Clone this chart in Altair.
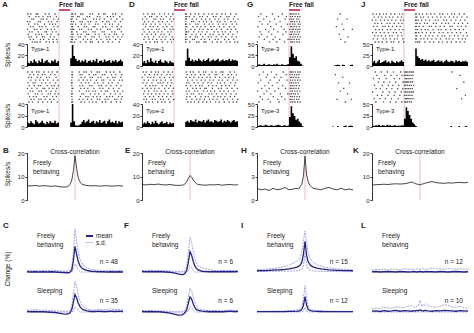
import altair as alt
import pandas as pd

FONT = "Liberation Sans"
INK = "#222222"
PINK = "#f1b3c3"
FF_RED = "#c8526f"
MEAN_C = "#23238a"
SD_C = "#9b9be6"
SPIKE_C = "#3a3a3a"

# ---------------- data ----------------
FF_START = 0.0
FF_END = 0.35
HIST_T0 = -1.0
BIN_W = 0.05
T_TICKS = [-1, -0.75, -0.5, -0.25, 0, 0.25, 0.5, 0.75, 1, 1.25, 1.5, 1.75, 2]
LAG_TICKS = [-0.6, -0.3, 0, 0.3, 0.6]

# raster spike times, 1/100 s, one string per trial
A_RASTER_1 = [
    "-97 -88 -71 -66 -43 -31 -12 39 43 51 68 74 97 105 124 139 144 168 177 196",
    "-93 -72 -63 -50 -35 -27 -8 40 44 58 63 88 96 120 128 151 161 170 190",
    "-85 -79 -56 -49 -38 -16 -2 38 41 55 76 83 108 117 127 142 163 181 199",
    "-99 -91 -64 -58 -33 -23 -6 39 45 66 73 91 99 116 137 149 156 175 192",
    "-95 -76 -67 -45 -29 -20 -11 37 42 52 70 81 94 114 122 144 158 167 186",
    "-89 -81 -61 -53 -41 -16 -4 40 43 60 79 86 107 112 137 146 166 181 194",
    "-98 -77 -69 -57 -36 -24 -14 38 42 46 64 71 92 101 119 130 152 160 183 189",
    "-92 -84 -65 -44 -39 -21 -9 39 41 56 77 84 106 113 134 141 165 174 195",
    "-96 -73 -62 -54 -37 -25 -3 40 44 58 69 87 93 113 125 143 157 173 180 200",
    "-94 -87 -70 -52 -46 -27 -15 38 43 61 67 82 103 110 126 147 155 169 184 197",
    "-90 -80 -58 -48 -32 -19 -7 39 42 53 76 89 100 118 131 150 159 177 191",
    "-83 -75 -68 -59 -40 -30 -18 -5 37 41 49 67 84 98 104 123 138 154 167 188",
]
A_RASTER_2 = [
    "-98 -84 -70 -63 -47 -33 -21 -6 41 63 78 85 101 119 126 148 160 171 190",
    "-91 -79 -66 -52 -44 -26 -13 40 42 66 72 94 108 115 136 143 164 178 196",
    "-95 -86 -68 -57 -39 -30 -9 41 69 81 97 104 122 131 152 168 175 193",
    "-88 -73 -60 -49 -35 -18 -4 40 62 76 88 99 117 134 140 159 172 189 198",
    "-97 -81 -75 -54 -42 -28 -11 39 41 70 83 92 111 121 138 155 166 185",
    "-93 -77 -64 -58 -37 -23 -15 -2 40 65 74 96 103 125 133 147 162 180 194",
    "-99 -85 -69 -50 -45 -31 -19 -7 41 43 68 79 90 109 128 137 156 170 187",
    "-90 -82 -62 -55 -40 -25 -10 40 64 86 93 106 114 132 145 151 173 183 199",
    "-96 -74 -67 -53 -34 -27 -12 -3 39 42 71 77 98 112 124 141 161 176 191",
    "-92 -80 -71 -47 -38 -20 -8 40 67 84 91 107 118 129 149 158 167 186 197",
    "-87 -78 -63 -56 -43 -29 -16 41 63 75 89 102 120 127 144 153 174 181 195",
    "-94 -83 -65 -51 -36 -24 -5 40 42 69 80 95 105 116 135 146 163 179 192",
]
D_RASTER_1 = [
    "-95 -82 -68 -61 -45 -30 -17 -4 36 38 52 66 77 93 108 119 134 150 161 177 194",
    "-90 -76 -70 -53 -39 -24 -10 37 40 48 63 81 89 104 123 131 146 165 172 189",
    "-98 -85 -63 -57 -42 -33 -13 -1 36 39 57 70 86 99 112 128 140 157 168 186 200",
    "-92 -79 -66 -48 -36 -21 -7 37 55 61 79 92 101 117 136 144 159 178 191",
    "-96 -87 -72 -59 -44 -27 -15 36 38 50 68 75 95 110 121 139 153 163 182 196",
    "-89 -74 -65 -51 -34 -22 -6 37 40 59 72 84 97 115 125 142 156 174 188",
    "-97 -81 -69 -55 -47 -29 -12 -3 36 53 65 80 91 106 118 133 148 167 179 193",
    "-93 -77 -62 -50 -38 -19 -9 37 39 46 62 77 88 103 126 137 151 160 176 198",
    "-99 -84 -71 -58 -41 -31 -14 36 38 56 69 83 98 113 122 141 154 170 184",
    "-91 -80 -64 -46 -35 -25 -5 37 51 67 73 90 107 116 132 149 162 181 195",
    "-94 -78 -67 -54 -40 -28 -11 -2 36 40 58 64 85 96 111 129 138 158 171 187",
    "-88 -75 -60 -52 -37 -20 -8 37 49 71 78 94 100 120 135 147 164 175 190 199",
]
D_RASTER_2 = [
    "-96 -87 -71 -58 -49 -32 -18 -5 39 51 60 78 92 99 119 131 147 153 175 189",
    "-91 -77 -61 -52 -39 -22 -12 41 55 66 83 94 110 128 134 152 169 180 195",
    "-99 -82 -73 -63 -44 -30 -14 -3 38 49 62 77 89 103 113 129 143 160 171 186",
    "-93 -80 -65 -55 -41 -27 -9 43 57 72 85 97 112 123 140 151 168 184 197",
    "-97 -85 -69 -50 -43 -34 -20 -7 40 47 63 76 91 106 117 136 145 158 177 192",
    "-89 -75 -66 -57 -37 -24 -11 38 52 68 80 88 108 121 132 149 162 173 190",
    "-98 -84 -72 -60 -47 -29 -16 -2 42 59 70 82 96 101 120 139 148 166 181 198",
    "-92 -79 -62 -53 -40 -26 -6 39 48 65 74 93 104 115 127 144 156 170 187",
    "-95 -81 -70 -56 -45 -31 -19 -4 41 54 61 79 87 109 118 133 150 163 178 194",
    "-90 -76 -64 -48 -36 -23 -10 40 50 67 84 98 107 125 137 146 159 176 189",
    "-94 -86 -68 -59 -42 -33 -17 -1 38 56 71 81 95 111 122 135 154 167 183 199",
    "-88 -78 -67 -51 -38 -28 -13 43 53 64 77 90 102 114 130 141 157 172 185 196",
]
G_RASTER_1 = [
    "-88 -52 -21 4 9 15 22 30 160",
    "-95 -70 -33 -8 5 11 19 27 34",
    "-79 -45 -12 3 8 14 24 31 152 181",
    "-91 -60 -28 6 10 17 25 33",
    "-84 -66 -40 -5 4 12 18 29 35 166",
    "-97 -57 -24 5 9 16 23 32 148",
    "-73 -48 -15 3 10 14 21 28 34 171 198",
    "-90 -63 -35 -10 6 11 18 26 33",
    "-86 -54 -19 4 8 15 22 30 157",
    "-93 -68 -43 5 12 19 27 35 184",
    "-77 -50 -29 -3 3 9 16 24 31 162",
    "-99 -61 -38 -14 6 10 17 25 32 175",
]
G_RASTER_2 = [
    "-80 -55 -18 4 8 13 20 28 34",
    "-92 -67 -40 -9 3 10 17 24 31 145",
    "-71 -46 -25 5 9 15 22 30 168",
    "-88 -59 -30 -6 4 11 19 27 35",
    "-96 -64 -37 3 8 14 21 29 155 189",
    "-75 -52 -20 5 10 16 23 32",
    "-85 -62 -33 -11 4 9 15 22 30 171",
    "-98 -70 -44 6 11 18 26 34 160",
    "-78 -57 -27 -4 3 8 14 20 28 183",
    "-90 -49 -23 5 10 17 25 33",
    "-83 -65 -35 -13 4 9 16 24 31 150 195",
    "-94 -58 -31 6 12 19 27 35 176",
]
J_RASTER_1 = [
    "-97 -86 -76 -64 -55 -41 -29 -14 -5 36 39 48 58 71 84 95 112 121 136 149 158 173 188",
    "-93 -80 -69 -57 -46 -35 -20 -8 37 40 52 61 76 89 103 115 128 142 155 166 181 197",
    "-99 -88 -73 -61 -50 -38 -26 -11 -2 36 38 44 55 68 80 98 107 124 133 147 162 176 190",
    "-91 -82 -70 -53 -44 -31 -17 -6 37 41 50 64 73 92 101 118 130 139 157 170 183 199",
    "-95 -84 -66 -59 -48 -36 -23 -12 36 39 47 60 79 86 99 113 126 144 151 168 179 193",
    "-89 -78 -67 -52 -42 -28 -15 -3 37 42 54 66 75 91 108 116 131 146 160 172 186",
    "-98 -87 -74 -62 -49 -33 -24 -9 36 38 46 57 70 83 94 110 122 137 150 164 177 195",
    "-92 -81 -71 -58 -45 -37 -19 -7 37 40 51 67 78 90 105 119 127 143 158 169 185 198",
    "-96 -83 -65 -56 -43 -30 -21 -4 36 39 53 62 74 87 100 114 132 141 153 171 182 192",
    "-90 -79 -68 -54 -40 -32 -16 -1 37 43 49 65 81 93 109 120 135 148 163 175 189",
]
J_RASTER_2 = [
    "-90 -71 -52 -33 -10 3 7 12 18 24 29 150",
    "-85 -60 -41 -22 -6 2 6 11 16 22 28 175",
    "-95 -77 -56 -30 -14 4 8 13 19 25",
    "-80 -63 -45 -26 -3 3 7 10 15 21 27 187",
    "-92 -68 -49 -35 -17 2 5 11 17 23 30",
    "-87 -74 -55 -38 -20 -4 4 9 14 20 26 165",
    "-98 -66 -46 -28 -9 3 6 12 18 24 29",
    "-83 -70 -50 -31 -13 2 7 13 19 25 192",
    "-93 -75 -58 -39 -18 4 8 12 16 22 28 180",
    "-88 -64 -43 -25 -7 3 6 11 17 23",
]

# PSTHs, spikes/s, 50-ms bins from -1 s to 2 s
HIST_A1 = [7, 5, 9, 6, 12, 8, 5, 10, 7, 13, 6, 9, 11, 7, 5, 10, 8, 12, 6, 9,
           0, 0, 0, 0, 0, 0, 0,
           14, 38, 18, 13, 9, 11, 7, 10, 8, 12, 6, 9, 10, 7, 11, 8, 13, 6, 9, 10,
           7, 12, 8, 9, 11, 6, 10, 8, 11, 7, 9, 12, 8]
HIST_A2 = [8, 6, 10, 7, 5, 12, 9, 6, 8, 11, 7, 5, 9, 6, 10, 8, 7, 11, 6, 8,
           0, 0, 0, 0, 0, 0, 0,
           8, 40, 10, 3, 2, 3, 5, 9, 12, 8, 10, 13, 7, 9, 11, 6, 10, 8, 12, 7,
           9, 11, 6, 10, 13, 8, 9, 7, 11, 6, 10, 8, 9]
HIST_D1 = [6, 9, 5, 11, 7, 14, 8, 6, 10, 5, 9, 12, 7, 6, 10, 8, 5, 9, 7, 6,
           0, 0, 0, 0, 0, 0, 0,
           10, 32, 15, 9, 12, 8, 11, 9, 13, 10, 8, 12, 9, 11, 14, 8, 10, 12, 9, 11,
           13, 8, 10, 12, 9, 11, 10, 13, 9, 12, 10, 11, 9]
HIST_D2 = [5, 8, 6, 10, 7, 5, 9, 6, 11, 7, 5, 8, 10, 6, 7, 9, 5, 8, 6, 7,
           0, 0, 0, 0, 0, 0, 0,
           9, 11, 8, 12, 10, 9, 13, 8, 11, 10, 9, 12, 8, 11, 13, 9, 10, 8, 12, 11,
           9, 10, 13, 8, 11, 9, 12, 10, 8, 11, 12, 9, 10]
HIST_G1 = [3, 4, 2, 3, 5, 2, 3, 4, 3, 2, 4, 3, 5, 3, 2, 4, 3, 2, 3, 4,
           20, 45, 28, 18, 22, 12, 10, 5, 1, 0, 0, 0, 0, 0, 0, 0, 0, 0, 0, 0,
           0, 0, 0, 0, 0, 0, 0, 0, 1, 2, 3, 2, 0, 3, 2, 0, 0, 0, 2, 3]
HIST_G2 = [2, 3, 4, 2, 3, 5, 3, 2, 4, 3, 2, 3, 4, 5, 3, 2, 3, 4, 2, 3,
           22, 45, 30, 24, 16, 18, 12, 8, 2, 0, 0, 0, 0, 0, 0, 0, 0, 0, 0, 0,
           0, 0, 0, 0, 0, 0, 0, 1, 0, 0, 2, 0, 0, 0, 2, 3, 0, 2, 3, 2]
HIST_J1 = [8, 12, 6, 10, 14, 7, 9, 11, 13, 8, 10, 6, 12, 9, 7, 11, 8, 10, 13, 9,
           0, 0, 0, 0, 0, 0, 0,
           40, 22, 18, 14, 16, 12, 15, 11, 13, 10, 12, 14, 9, 11, 13, 10, 12, 8, 11, 14,
           10, 9, 12, 11, 8, 13, 10, 12, 9, 11, 10, 12, 9]
HIST_J2 = [3, 2, 4, 3, 5, 2, 4, 3, 2, 5, 3, 4, 2, 3, 4, 2, 3, 2, 4, 3,
           18, 43, 35, 26, 18, 10, 6, 2, 0, 0, 0, 0, 0, 0, 0, 0, 0, 0, 0, 0,
           0, 0, 0, 0, 0, 0, 0, 0, 0, 2, 0, 0, 0, 0, 2, 0, 0, 0, 2, 1]

# lag axis (s) for cross-correlations and population curves
XC = [-0.6, -0.55, -0.5, -0.45, -0.4, -0.35, -0.3, -0.25, -0.2, -0.15,
      -0.1, -0.08, -0.06, -0.04, -0.02, 0, 0.02, 0.04, 0.06, 0.08,
      0.1, 0.15, 0.2, 0.25, 0.3, 0.35, 0.4, 0.45, 0.5, 0.55, 0.6]

CC_B = [6.1, 6.0, 6.2, 5.9, 6.1, 6.0, 5.8, 6.0, 5.7, 5.5, 5.6, 6.0, 6.8, 8.5, 12.5, 18.8,
        13.5, 9.5, 7.8, 6.9, 6.5, 6.2, 6.0, 6.1, 5.9, 6.0, 6.1, 5.9, 6.0, 6.1, 5.9]
CC_E = [6.6, 6.4, 6.7, 6.5, 6.8, 6.5, 6.4, 6.6, 6.3, 6.2, 6.3, 6.5, 6.9, 7.8, 9.3, 10.4,
        9.8, 8.6, 7.6, 7.0, 6.6, 6.4, 6.3, 6.5, 6.4, 6.6, 6.3, 6.5, 6.6, 6.4, 6.5]
CC_H = [1.5, 1.3, 1.4, 1.2, 1.5, 1.3, 1.4, 1.6, 1.3, 1.4, 1.5, 1.4, 1.7, 2.0, 3.0, 5.6,
        3.2, 2.3, 1.9, 1.7, 1.5, 1.4, 1.3, 1.5, 1.6, 1.4, 1.3, 1.5, 1.3, 1.4, 1.3]
CC_K = [6.4, 6.5, 6.6, 6.7, 6.6, 6.8, 6.9, 6.8, 6.9, 7.2, 7.7, 7.3, 7.0, 6.8, 6.6, 6.5,
        6.7, 6.9, 7.1, 7.3, 7.5, 7.8, 7.4, 7.2, 7.1, 7.3, 7.2, 7.4, 7.5, 7.3, 7.5]

C1_MEAN = [1, 0, 1, 0, 1, 0, 1, 0, -1, -2, -3, -3, 0, 8, 45, 100, 70, 42, 26, 17, 12, 6, 3, 2, 1, 1, 0, 1, 0, 1, 0]
C1_UP = [6, 5, 6, 5, 7, 6, 5, 6, 5, 4, 4, 5, 9, 22, 80, 170, 120, 78, 52, 38, 28, 16, 10, 8, 7, 6, 6, 7, 6, 5, 6]
C1_LO = [0, 0, 0, 0, 0, 0, 0, 0, 0, 0, 0, 0, 0, 0, 12, 30, 22, 8, 2, 0, 0, 0, 0, 0, 0, 0, 0, 0, 0, 0, 0]
C2_MEAN = [2, 1, 2, 1, 1, 0, -1, -2, -4, -7, -8, -6, -2, 10, 38, 68, 55, 35, 22, 14, 9, 4, 2, 2, 3, 2, 2, 3, 2, 3, 2]
C2_UP = [8, 7, 9, 8, 7, 6, 6, 5, 4, 3, 3, 4, 8, 25, 75, 118, 98, 66, 44, 30, 22, 12, 8, 8, 11, 9, 10, 12, 9, 10, 8]
C2_LO = [0, 0, 0, 0, 0, 0, 0, 0, 0, 0, 0, 0, 0, 0, 5, 20, 14, 6, 0, 0, 0, 0, 0, 0, 0, 0, 0, 0, 0, 0, 0]
F1_MEAN = [2, 1, 2, 1, 2, 1, 0, -1, -3, -7, -10, -9, -4, 8, 40, 80, 66, 42, 24, 14, 8, 3, 2, 1, 2, 1, 2, 1, 2, 1, 2]
F1_UP = [6, 5, 7, 6, 5, 6, 5, 4, 3, 2, 2, 3, 8, 25, 80, 135, 115, 80, 52, 35, 24, 16, 13, 10, 6, 5, 6, 5, 6, 5, 6]
F1_LO = [0, 0, 0, 0, 0, 0, 0, 0, 0, 0, 0, 0, 0, 0, 5, 25, 18, 5, 0, 0, 0, 0, 0, 0, 0, 0, 0, 0, 0, 0, 0]
F2_MEAN = [2, 1, 2, 1, 1, 0, -2, -4, -8, -12, -11, -8, -2, 10, 35, 58, 50, 32, 18, 10, 6, 3, 2, 1, 2, 1, 1, 2, 3, 2, 2]
F2_UP = [6, 5, 6, 5, 5, 4, 3, 2, 1, 0, 1, 3, 8, 22, 62, 92, 82, 58, 38, 24, 15, 9, 7, 6, 5, 6, 5, 6, 8, 6, 5]
F2_LO = [0, 0, 0, 0, 0, 0, 0, 0, 0, 0, 0, 0, 0, 0, 4, 22, 16, 6, 0, 0, 0, 0, 0, 0, 0, 0, 0, 0, 0, 0, 0]
I1_MEAN = [12, 13, 14, 16, 18, 20, 22, 25, 30, 38, 48, 55, 68, 95, 170, 300, 165, 100, 75, 60, 50, 38, 30, 25, 20, 18, 16, 15, 14, 13, 12]
I1_UP = [22, 24, 26, 30, 34, 40, 46, 55, 68, 85, 105, 118, 140, 190, 300, 400, 290, 190, 140, 112, 95, 72, 58, 48, 40, 34, 30, 28, 26, 24, 22]
I1_LO = [5, 5, 6, 6, 7, 7, 8, 8, 9, 10, 12, 14, 18, 25, 60, 180, 70, 30, 20, 14, 10, 8, 6, 5, 5, 4, 4, 4, 4, 3, 3]
I2_MEAN = [20, 20, 22, 22, 25, 25, 28, 30, 35, 40, 55, 65, 90, 150, 420, 1000, 430, 170, 100, 70, 55, 40, 32, 28, 25, 22, 20, 20, 18, 18, 18]
I2_UP = [45, 45, 48, 50, 55, 58, 62, 68, 80, 95, 130, 150, 210, 340, 900, 1700, 900, 380, 220, 150, 120, 85, 70, 60, 55, 50, 45, 45, 42, 40, 40]
I2_LO = [0, 0, 0, 0, 0, 0, 0, 0, 0, 0, 0, 0, 0, 0, 60, 300, 70, 10, 0, 0, 0, 0, 0, 0, 0, 0, 0, 0, 0, 0, 0]
L1_MEAN = [1, 2, 0, 1, 2, 1, 0, 2, 1, 0, 1, 2, 1, 0, 1, 2, 1, 0, 1, 2, 1, 1, 0, 2, 1, 0, 1, 2, 1, 0, 1]
L1_UP = [8, 10, 9, 11, 8, 12, 10, 9, 13, 11, 10, 12, 9, 11, 13, 10, 12, 14, 11, 9, 12, 15, 11, 13, 10, 14, 12, 11, 13, 10, 12]
L1_LO = [0, 0, 0, 0, 0, 0, 0, 0, 0, 0, 0, 0, 0, 0, 0, 0, 0, 0, 0, 0, 0, 0, 0, 0, 0, 0, 0, 0, 0, 0, 0]
L2_MEAN = [3, 4, 2, 5, 3, 4, 6, 3, 5, 4, 3, 5, 4, 6, 5, 8, 5, 4, 6, 5, 4, 3, 5, 4, 6, 5, 4, 3, 5, 4, 3]
L2_UP = [12, 15, 14, 18, 16, 14, 20, 18, 17, 22, 25, 20, 18, 22, 24, 45, 22, 30, 26, 32, 24, 20, 18, 22, 28, 26, 20, 18, 22, 16, 14]
L2_LO = [0, 0, 0, 0, 0, 0, 0, 0, 0, 0, 0, 0, 0, 0, 0, 0, 0, 0, 0, 0, 0, 0, 0, 0, 0, 0, 0, 0, 0, 0, 0]

COLUMNS = [
    dict(top="A", mid="B", bot="C", tl=-25, ml=-24, bl=-24,
         r1=A_RASTER_1, r2=A_RASTER_2, h1=HIST_A1, h2=HIST_A2, ty1="Type-1", ty2="Type-1",
         hmax=40, hticks=[0, 20, 40], cc=CC_B, ccmax=20, ccticks=[0, 10, 20],
         m1=C1_MEAN, u1=C1_UP, l1=C1_LO, ymax1=180, yt1=[0, 60, 120, 180], n1="n = 48",
         m2=C2_MEAN, u2=C2_UP, l2=C2_LO, ymax2=120, yt2=[0, 60, 120], n2="n = 35"),
    dict(top="D", mid="E", bot="F", tl=-13, ml=-17, bl=-18,
         r1=D_RASTER_1, r2=D_RASTER_2, h1=HIST_D1, h2=HIST_D2, ty1="Type-1", ty2="Type-2",
         hmax=40, hticks=[0, 20, 40], cc=CC_E, ccmax=20, ccticks=[0, 10, 20],
         m1=F1_MEAN, u1=F1_UP, l1=F1_LO, ymax1=180, yt1=[0, 60, 120, 180], n1="n = 6",
         m2=F2_MEAN, u2=F2_UP, l2=F2_LO, ymax2=120, yt2=[0, 60, 120], n2="n = 6"),
    dict(top="G", mid="H", bot="I", tl=-10, ml=-16, bl=-16,
         r1=G_RASTER_1, r2=G_RASTER_2, h1=HIST_G1, h2=HIST_G2, ty1="Type-3", ty2="Type-3",
         hmax=50, hticks=[0, 25, 50], cc=CC_H, ccmax=6, ccticks=[0, 3, 6],
         m1=I1_MEAN, u1=I1_UP, l1=I1_LO, ymax1=450, yt1=[0, 150, 300, 450], n1="n = 15",
         m2=I2_MEAN, u2=I2_UP, l2=I2_LO, ymax2=2000, yt2=[0, 1000, 2000], n2="n = 12"),
    dict(top="J", mid="K", bot="L", tl=-11, ml=-19, bl=-11,
         r1=J_RASTER_1, r2=J_RASTER_2, h1=HIST_J1, h2=HIST_J2, ty1="Type-1", ty2="Type-3",
         hmax=50, hticks=[0, 25, 50], cc=CC_K, ccmax=20, ccticks=[0, 10, 20],
         m1=L1_MEAN, u1=L1_UP, l1=L1_LO, ymax1=180, yt1=[0, 60, 120, 180], n1="n = 12",
         m2=L2_MEAN, u2=L2_UP, l2=L2_LO, ymax2=120, yt2=[0, 60, 120], n2="n = 10"),
]

# ---------------- layout ----------------
W = 96
H_R1, H_H1, H_R2, H_H2 = 44, 22, 38, 23
H_GAP1, H_B, H_GAP2, H_CT, H_GAP3, H_CB = 26, 47, 26, 46, 9, 31

TS = alt.Scale(domain=[-1, 2], nice=False, zero=False)
LS = alt.Scale(domain=[-0.6, 0.6], nice=False, zero=False)


def ax(**kw):
    base = dict(title=None, grid=False, tickSize=2, labelPadding=1, domainColor="black",
                tickColor="black", domainWidth=0.8, tickWidth=0.8, labelFontSize=6,
                labelFont=FONT, labelColor=INK, titleFont=FONT, titleFontSize=6.5,
                titleFontWeight="normal", titleColor=INK, titlePadding=1, labelFlush=False)
    base.update(kw)
    return alt.Axis(**base)


def label(s, x, y, size=6.5, weight="normal", align="left", angle=0):
    return alt.Chart(pd.DataFrame({"s": [s]})).mark_text(
        font=FONT, fontSize=size, fontWeight=weight, align=align, baseline="middle",
        angle=angle, color=INK).encode(x=alt.value(x), y=alt.value(y), text="s:N")


def zero_rule(scale, y0=None, y1=None):
    enc = dict(x=alt.X("t:Q", scale=scale, axis=None))
    if y0 is not None:
        enc["y"] = alt.value(y0)
        enc["y2"] = alt.value(y1)
    return alt.Chart(pd.DataFrame({"t": [0.0]})).mark_rule(color=PINK, strokeWidth=0.9).encode(**enc)


def raster(trials, h, top, bot, extra):
    rows = []
    for i, s in enumerate(trials):
        for v in s.split():
            rows.append({"t": int(v) / 100.0, "i": i})
    df = pd.DataFrame(rows)
    d = (bot - top) / (len(trials) - 1)
    ys = alt.Scale(domain=[-top / d, (h - top) / d], reverse=True, nice=False, zero=False)
    dots = alt.Chart(df).mark_square(size=1.6, color=SPIKE_C, opacity=0.9).encode(
        x=alt.X("t:Q", scale=TS, axis=None), y=alt.Y("i:Q", scale=ys, axis=None))
    return alt.layer(*extra, dots).properties(width=W, height=h)


def hist(vals, c, h, typ, labels, typ_y, first, sy):
    xs = [HIST_T0 + BIN_W * i for i in range(len(vals))] + [HIST_T0 + BIN_W * len(vals)]
    df = pd.DataFrame({"t": xs, "v": list(vals) + [vals[-1]]})
    if labels:
        xa = ax(values=T_TICKS, labelExpr="datum.value % 1 == 0 ? '' + datum.value : ''",
                title="Time (s)")
    else:
        xa = ax(values=T_TICKS, labels=False)
    area = alt.Chart(df).mark_area(interpolate="step-after", color="black").encode(
        x=alt.X("t:Q", scale=TS, axis=xa),
        y=alt.Y("v:Q", scale=alt.Scale(domain=[0, c["hmax"]], nice=False), axis=ax(values=c["hticks"])))
    layers = [zero_rule(TS), area, label(typ, 4, typ_y, size=6)]
    if first:
        layers.append(label("Spikes/s", -19, sy, size=6.5, align="center", angle=270))
    return alt.layer(*layers).properties(width=W, height=h)


def cc_panel(c, first):
    df = pd.DataFrame({"x": XC, "y": c["cc"]})
    line = alt.Chart(df).mark_line(color="#333333", strokeWidth=0.9).encode(
        x=alt.X("x:Q", scale=LS, axis=ax(values=LAG_TICKS, labelExpr="'' + datum.value", title="Time (s)")),
        y=alt.Y("y:Q", scale=alt.Scale(domain=[0, c["ccmax"]], nice=False), axis=ax(values=c["ccticks"])))
    rule = alt.Chart(pd.DataFrame({"x": [0.0]})).mark_rule(color=PINK, strokeWidth=0.9).encode(
        x=alt.X("x:Q", scale=LS, axis=None))
    layers = [rule, line, label(c["mid"], c["ml"], -2, size=8, weight="bold"),
              label("Cross-correlation", 48, -1, size=6.5, align="center"),
              label("Freely", 6, 10), label("behaving", 6, 18.5)]
    if first:
        layers.append(label("Spikes/s", -19, 21, size=6.5, align="center", angle=270))
    return alt.layer(*layers).properties(width=W, height=H_B)


def pop_panel(mean, up, lo, ymax, yticks, h, bottom, extra):
    df = pd.DataFrame({"x": XC, "mean": mean, "up": up, "lo": lo})
    if bottom:
        xa = ax(values=LAG_TICKS, labelExpr="'' + datum.value", title="Time (s)")
    else:
        xa = ax(labels=False, ticks=False)
    if ymax > 1000:
        ya = ax(values=yticks, labelExpr="datum.value >= 1000 ? (datum.value / 1000) + 'k' : '' + datum.value")
    else:
        ya = ax(values=yticks)
    ysc = alt.Scale(domain=[0, ymax], nice=False, zero=False)
    sd = alt.Chart(df).transform_fold(["up", "lo"], as_=["k", "v"]).mark_line(
        color=SD_C, strokeWidth=0.9, strokeDash=[2, 1]).encode(
        x=alt.X("x:Q", scale=LS, axis=xa), y=alt.Y("v:Q", scale=ysc, axis=ya), detail="k:N")
    mn = alt.Chart(df).mark_line(color=MEAN_C, strokeWidth=1.3).encode(
        x=alt.X("x:Q", scale=LS, axis=None), y=alt.Y("mean:Q", scale=ysc, axis=None))
    return alt.layer(sd, mn, *extra).properties(width=W, height=h)


def spacer(h):
    return alt.Chart(pd.DataFrame({"a": [0]})).mark_point(opacity=0).encode(
        x=alt.X("a:Q", axis=None), y=alt.Y("a:Q", axis=None)).properties(width=W, height=h)


rows = [[] for _ in range(10)]
for ci, c in enumerate(COLUMNS):
    first = ci == 0
    ff_bar = alt.Chart(pd.DataFrame({"t": [FF_START], "t2": [FF_END]})).mark_rule(
        color=FF_RED, strokeWidth=2).encode(x=alt.X("t:Q", scale=TS, axis=None), x2="t2:Q", y=alt.value(10))
    ff_txt = alt.Chart(pd.DataFrame({"t": [FF_START], "s": ["Free fall"]})).mark_text(
        font=FONT, fontSize=6.5, fontWeight="bold", align="left", baseline="middle", color=INK).encode(
        x=alt.X("t:Q", scale=TS, axis=None), y=alt.value(4.5), text="s:N")
    rows[0].append(raster(c["r1"], H_R1, 14, 42,
                          [zero_rule(TS, 12, H_R1), ff_bar, ff_txt,
                           label(c["top"], c["tl"], 5, size=8, weight="bold")]))
    rows[1].append(hist(c["h1"], c, H_H1, c["ty1"], False, 5, first, 11))
    rows[2].append(raster(c["r2"], H_R2, 6, 36, [zero_rule(TS)]))
    rows[3].append(hist(c["h2"], c, H_H2, c["ty2"], True, 7, first, 12))
    rows[4].append(spacer(H_GAP1))
    rows[5].append(cc_panel(c, first))
    rows[6].append(spacer(H_GAP2))
    top_extra = [label(c["bot"], c["bl"], 0, size=8, weight="bold"),
                 label("Freely", 10, 10), label("behaving", 10, 18.5),
                 label(c["n1"], 91, 36, align="right")]
    if first:
        legend_df = pd.DataFrame({"a": [0]})
        top_extra += [
            alt.Chart(legend_df).mark_rule(color=MEAN_C, strokeWidth=2).encode(
                x=alt.value(59), x2=alt.value(66), y=alt.value(10)),
            alt.Chart(legend_df).mark_rule(color=SD_C, strokeWidth=1.2, strokeDash=[1.5, 1]).encode(
                x=alt.value(59), x2=alt.value(66), y=alt.value(16.5)),
            label("mean", 69, 10, size=6.5), label("s.d.", 69, 16.5, size=6.5),
            label("Change (%)", -19, 43, size=6.5, align="center", angle=270),
        ]
    rows[7].append(pop_panel(c["m1"], c["u1"], c["l1"], c["ymax1"], c["yt1"], H_CT, False, top_extra))
    rows[8].append(spacer(H_GAP3))
    bot_extra = [label("Sleeping", 10, 10), label(c["n2"], 91, 20, align="right")]
    rows[9].append(pop_panel(c["m2"], c["u2"], c["l2"], c["ymax2"], c["yt2"], H_CB, True, bot_extra))

cells = [ch for r in rows for ch in r]
chart = alt.concat(*cells, columns=4, spacing={"row": 0, "column": 19},
                   bounds="flush", align="each").properties(
    padding={"left": 2, "top": 0, "right": 0, "bottom": 0}
).configure(font=FONT, background="white").configure_view(stroke=None)

chart.save("out.html", embed_options={"renderer": "svg", "actions": False})
